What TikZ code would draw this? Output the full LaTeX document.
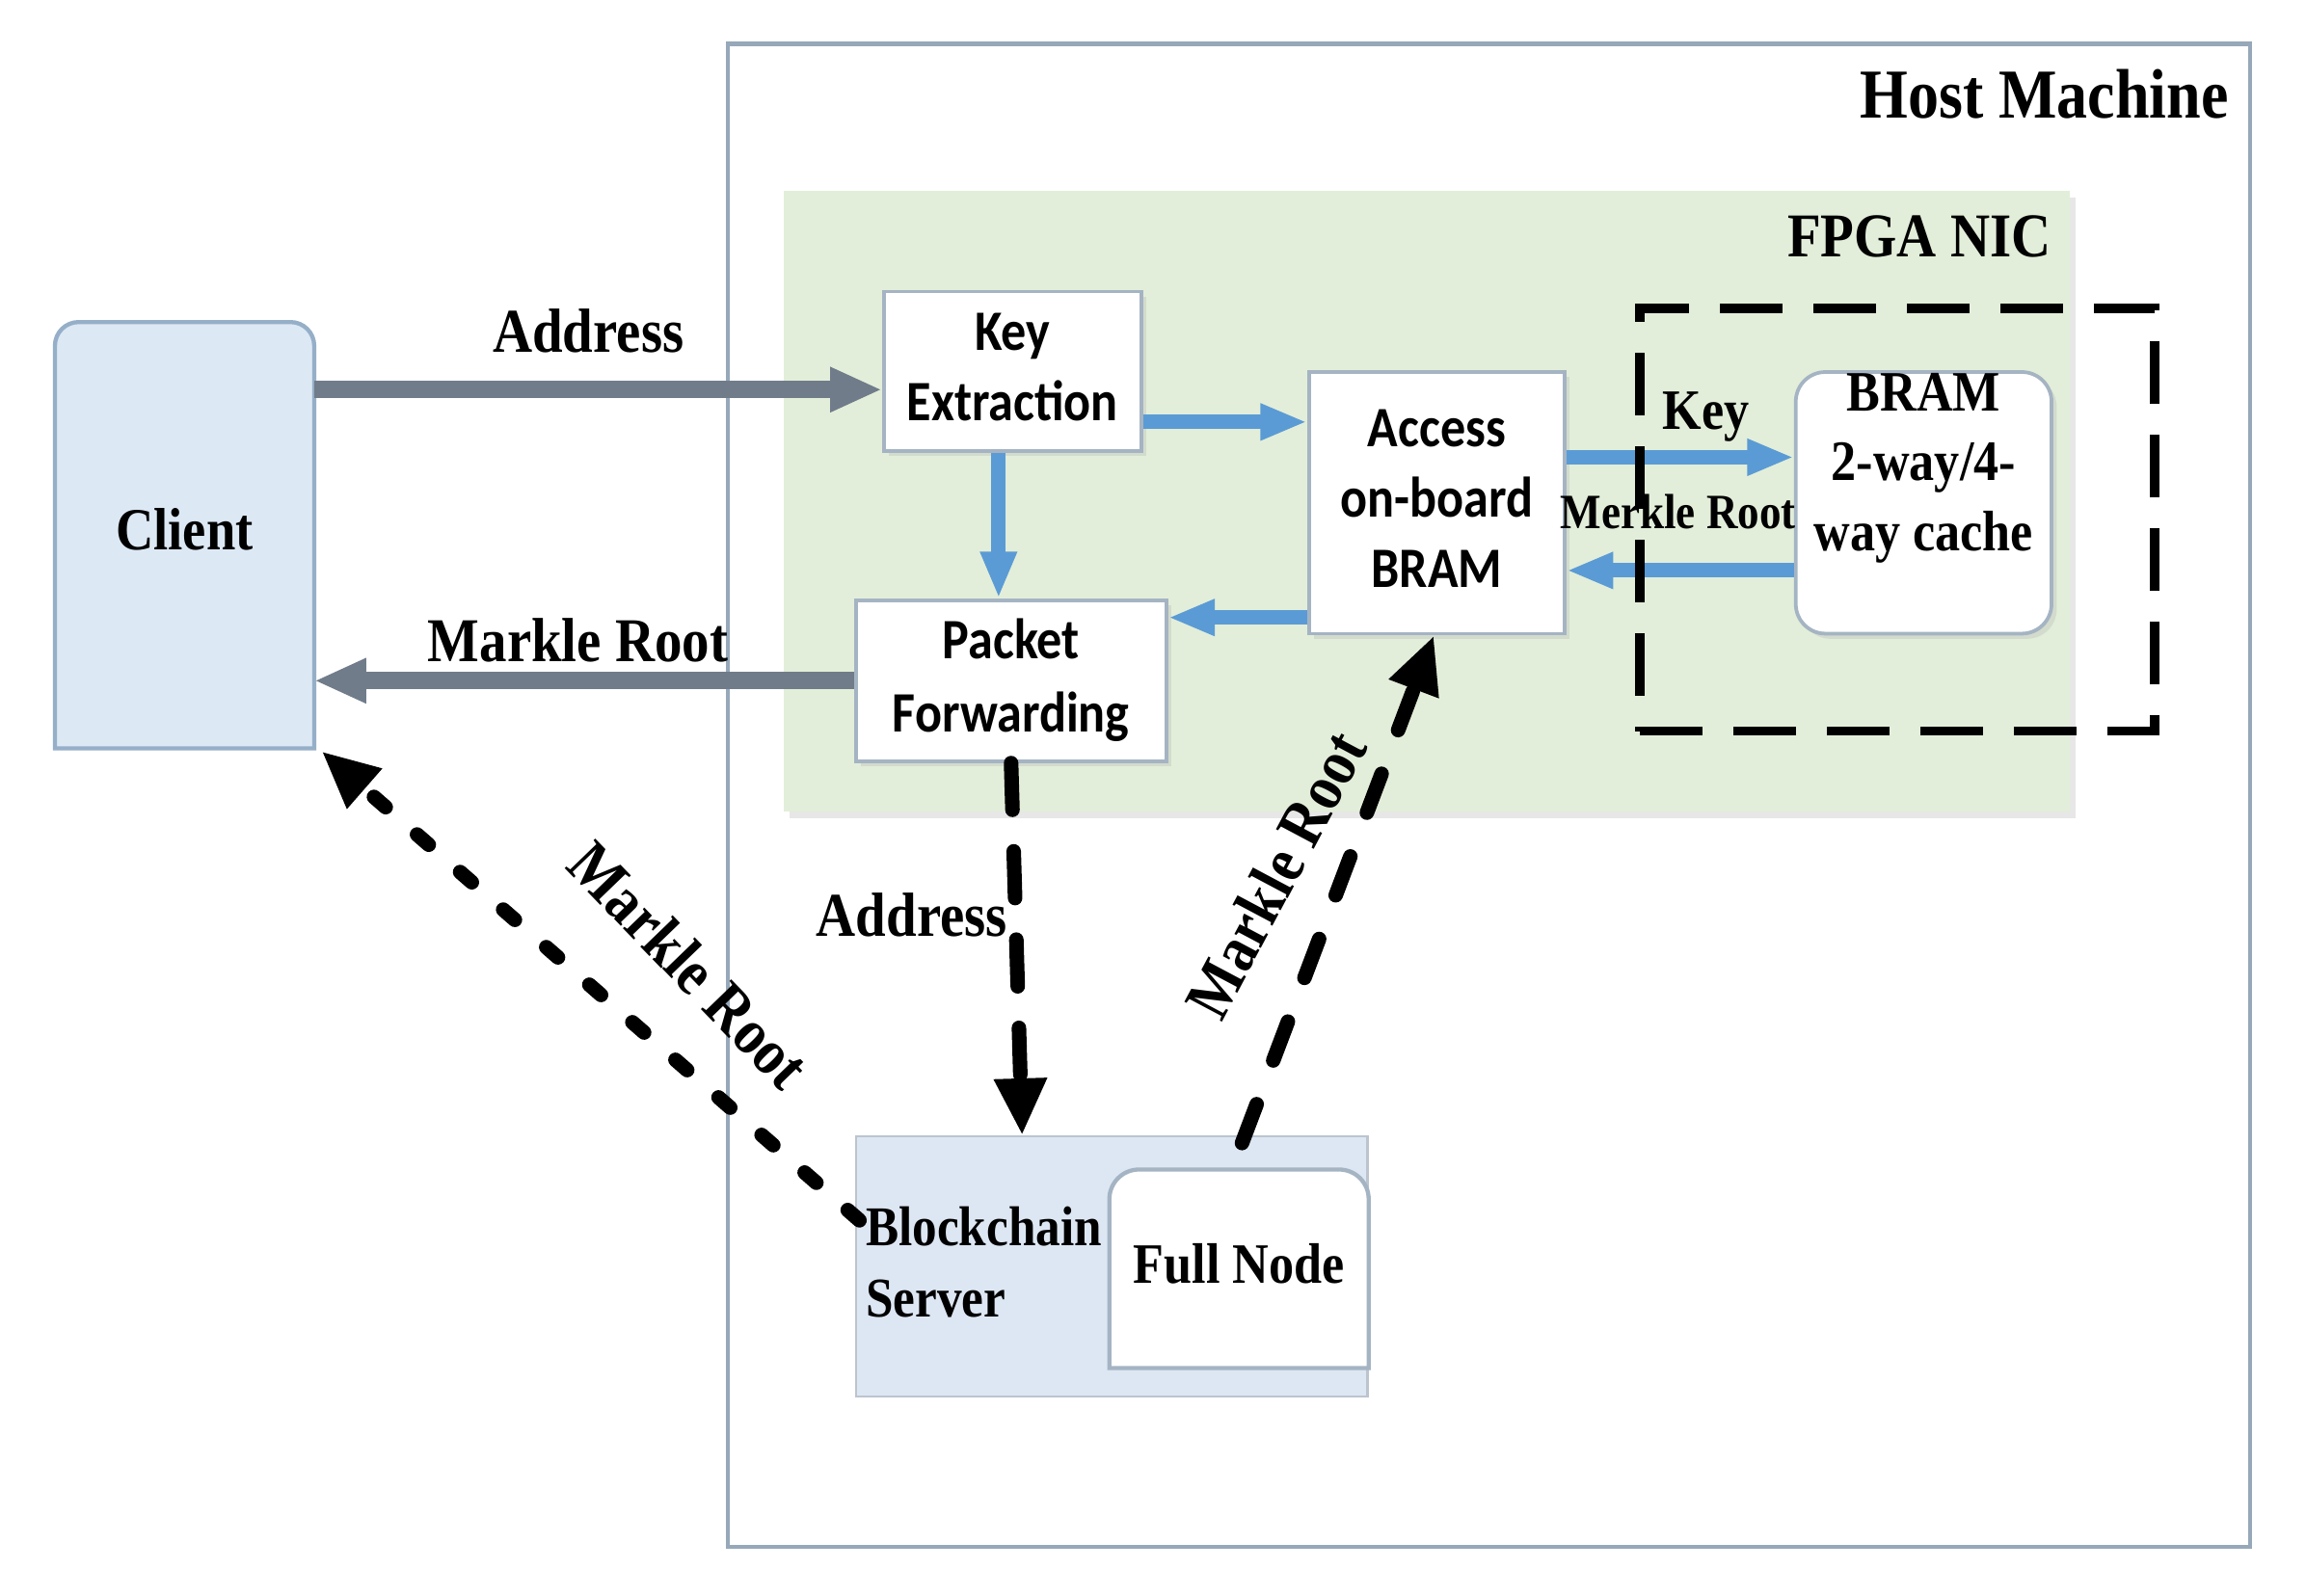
\documentclass[tikz,border=0pt]{standalone}
\usepackage{graphicx}
\usepackage{fontspec}
\setmainfont{Liberation Serif}
\newfontfamily\calfont{Carlito}
\usetikzlibrary{arrows.meta,calc,shadows}
\definecolor{hostline}{RGB}{150,168,185}
\definecolor{greenfill}{RGB}{226,238,217}
\definecolor{clientfill}{RGB}{220,232,244}
\definecolor{clientline}{RGB}{150,175,200}
\definecolor{boxline}{RGB}{165,180,195}
\definecolor{bluearrow}{RGB}{91,155,213}
\definecolor{grayarrow}{RGB}{112,124,138}
\definecolor{serverfill}{RGB}{221,231,243}
\newcommand{\cc}[1]{\scalebox{0.88}[1]{\begin{tabular}{@{}c@{}}#1\end{tabular}}}
\newcommand{\cl}[1]{\scalebox{0.88}[1]{\begin{tabular}{@{}l@{}}#1\end{tabular}}}
\begin{document}
\begin{tikzpicture}[x=0.0099490cm, y=-0.0099490cm,
  hostbox/.style={draw=hostline, line width=0.8pt, fill=white, inner sep=0pt},
  nicbox/.style={fill=greenfill, draw=none, inner sep=0pt,
    drop shadow={shadow xshift=1.2pt, shadow yshift=-1.2pt, fill=black!30, opacity=0.3}},
  wbox/.style={draw=boxline, line width=0.7pt, fill=white, inner sep=0pt,
    drop shadow={shadow xshift=1pt, shadow yshift=-1pt, fill=black!30, opacity=0.3}},
  plain/.style={inner sep=0pt},
  serif/.style={font=\bfseries\fontsize{12}{14}\selectfont, inner sep=0pt},
  sans/.style={font=\calfont\bfseries\fontsize{11}{13.5}\selectfont, inner sep=0pt},
  grayarr/.style={draw=grayarrow, line width=3.4pt, -{Triangle[length=10pt,width=8pt]}},
  bluearr/.style={draw=bluearrow, line width=2.8pt, -{Triangle[length=9pt,width=6.5pt]}},
  dasharr/.style={draw=black, line width=2.8pt, line cap=round, dash pattern=on 8pt off 9pt,
    -{Triangle[length=11pt,width=9.5pt]}},
  grpbox/.style={draw=black, line width=1.8pt, dash pattern=on 12pt off 6pt, inner sep=0pt}
]
\useasboundingbox (0,0) rectangle (1568,1085.5);
\fill[white] (0,0) rectangle (1568,1085.5);

% host machine
\node[hostbox, minimum width=10.30cm, minimum height=10.17cm] (host) at (1012.5,541) {};
\node[serif, font=\bfseries\fontsize{13.5}{15}\selectfont] (hostlbl) at (1390,70) {\cc{Host Machine}};

% FPGA NIC
\node[nicbox, minimum width=8.70cm, minimum height=4.20cm] (nic) at (970,341) {};
\node[serif] (niclbl) at (1305,165) {\cc{FPGA NIC}};

% client
\node[plain, minimum width=1.74cm, minimum height=2.87cm] (client) at (125.5,364) {};
\filldraw[fill=clientfill, draw=clientline, line width=0.8pt]
  (client.south west) [rounded corners=1.6mm] -- (client.north west) -- (client.north east)
  [sharp corners] -- (client.south east) -- cycle;
\node[serif, font=\bfseries\fontsize{11.5}{14}\selectfont] (clientlbl) at (client.center) {\cc{Client}};

% inner boxes
\node[wbox, minimum width=1.74cm, minimum height=1.08cm] (ke) at (688.5,252.5) {};
\node[sans] (kelbl) at (ke.center) {\cc{Key\\Extraction}};
\node[wbox, minimum width=1.73cm, minimum height=1.77cm] (acc) at (977,342) {};
\node[sans] (acclbl) at (acc.center) {\cc{Access\\on-board\\BRAM}};
\node[wbox, minimum width=2.10cm, minimum height=1.09cm] (pf) at (687.5,463) {};
\node[sans, font=\calfont\bfseries\fontsize{11}{14}\selectfont] (pflbl) at (pf.center) {\cc{Packet\\Forwarding}};
\node[wbox, rounded corners=2mm, minimum width=1.73cm, minimum height=1.77cm] (bram) at (1308,342) {};
\node[serif, font=\bfseries\fontsize{11}{13.4}\selectfont] (bramlbl) at (1308,317.5) {\cc{BRAM\\2-way/4-\\way cache}};

% blockchain server
\node[plain, fill=serverfill, draw=serverfill!85!black, line width=0.4pt,
  minimum width=3.46cm, minimum height=1.76cm] (bc) at (756,861.5) {};
\node[plain, minimum width=1.74cm, minimum height=1.33cm] (fn) at (842.5,863) {};
\filldraw[fill=white, draw=boxline, line width=0.8pt]
  (fn.south west) [rounded corners=2mm] -- (fn.north west) -- (fn.north east)
  [sharp corners] -- (fn.south east) -- cycle;
\node[serif, font=\bfseries\fontsize{11}{14}\selectfont] (fnlbl) at (fn.center) {\cc{Full Node}};
\node[serif, font=\bfseries\fontsize{10.8}{13.7}\selectfont, anchor=west] (bclbl) at (588,862) {\cl{Blockchain\\Server}};

% gray arrows
\draw[grayarr] ($(client.east)+(0,-99)$) coordinate (a1) -- (a1 -| ke.west);
\draw[grayarr] (pf.west) -- (pf.west -| client.east);

% blue arrows
\draw[bluearr] ($(ke.east)+(0,34.5)$) coordinate (b1) -- (b1 -| acc.west);
\draw[bluearr] ($(ke.south)+(-9.5,0)$) coordinate (b2) -- (b2 |- pf.north);
\draw[bluearr] ($(acc.west)+(0,78)$) coordinate (b3) -- (b3 -| pf.east);
\draw[bluearr] ($(acc.east)+(0,-31)$) coordinate (b4) -- (b4 -| bram.west);
\draw[bluearr] ($(bram.west)+(0,46)$) coordinate (b5) -- (b5 -| acc.east);

% dashed arrows
\draw[dasharr, dash pattern=on 9pt off 8pt] (pf.south) -- ($(bc.north)+(-61,0)$);
\draw[dasharr] ($(fn.north)+(2,-18)$) -- ($(acc.south)+(-2,0)$);
\draw[dasharr, dash pattern=on 3pt off 8pt] ($(bc.west)+(3,-31.5)$) -- ($(client.south east)+(5,2)$);

% labels
\node[serif] (l1) at (400,230) {\cc{Address}};
\node[serif] (l2) at (393,440) {\cc{Markle Root}};
\node[serif, font=\bfseries\fontsize{11}{13}\selectfont] (l3) at (1160,283) {\cc{Key}};
\node[serif, font=\bfseries\fontsize{9.5}{11}\selectfont] (l4) at (1141,352) {\cc{Merkle Root}};
\node[serif] (l5) at (620,627) {\cc{Address}};
\node[serif, font=\bfseries\fontsize{12.5}{14}\selectfont, rotate=62] (l6) at (872,597) {\cc{Markle Root}};
\node[serif, font=\bfseries\fontsize{12.5}{14}\selectfont, rotate=-46] (l7) at (465,660) {\cc{Markle Root}};

% dashed cache group
\node[grpbox, minimum width=3.48cm, minimum height=2.86cm] (grp) at (1290,353.5) {};
\end{tikzpicture}
\end{document}
